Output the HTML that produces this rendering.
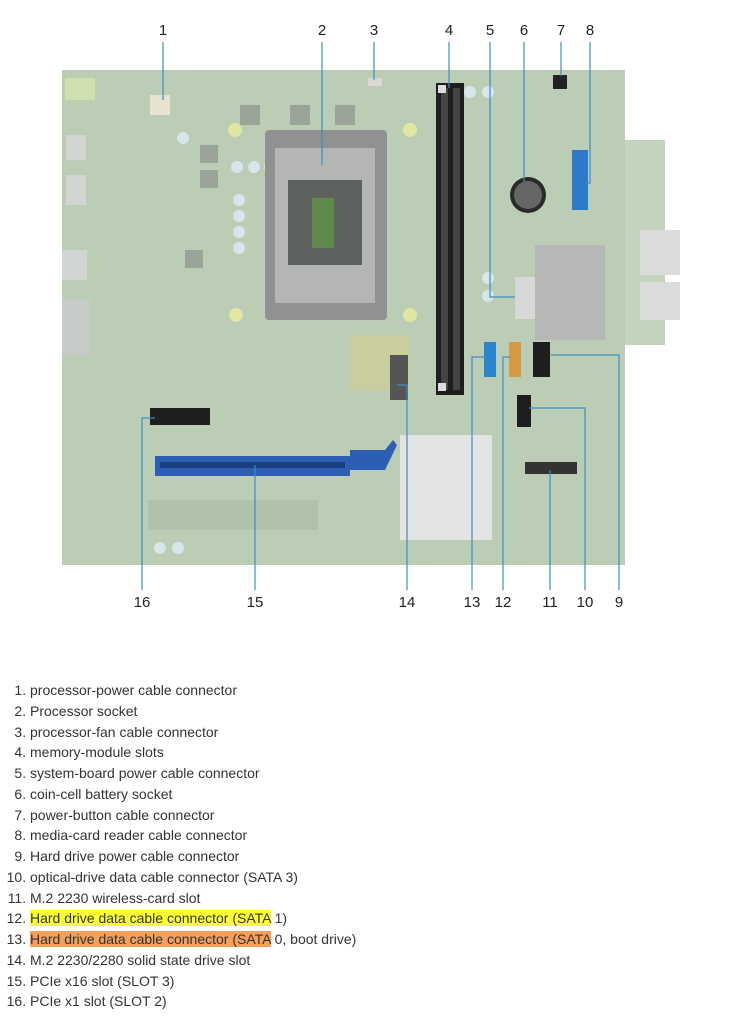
<!DOCTYPE html>
<html><head><meta charset="utf-8"><style>
body{margin:0;width:754px;height:1024px;background:#fff;position:relative;overflow:hidden;font-family:"Liberation Sans",sans-serif}
svg{position:absolute;left:0;top:0}
ol{position:absolute;left:0;top:680px;margin:0;padding:0 0 0 30px;font-size:14px;color:#333;line-height:20.75px}
.y{background:#ffff33}.o{background:#f5a05a}
</style></head><body>
<svg width="754" height="640" viewBox="0 0 754 640">
<g font-family="Liberation Sans" font-size="15" fill="#222" text-anchor="middle">
<text x="163" y="35">1</text><text x="322" y="35">2</text><text x="374" y="35">3</text><text x="449" y="35">4</text><text x="490" y="35">5</text><text x="524" y="35">6</text><text x="561" y="35">7</text><text x="590" y="35">8</text>
<text x="142" y="607">16</text><text x="255" y="607">15</text><text x="407" y="607">14</text><text x="472" y="607">13</text><text x="503" y="607">12</text><text x="550" y="607">11</text><text x="585" y="607">10</text><text x="619" y="607">9</text>
</g>
<!-- board -->
<rect x="62" y="70" width="563" height="495" fill="#bccdb5"/>
<rect x="625" y="140" width="40" height="205" fill="#c3d3bd"/>
<rect x="640" y="230" width="40" height="45" fill="#d9dcd9"/><rect x="640" y="282" width="40" height="38" fill="#d9dcd9"/>
<rect x="62" y="300" width="28" height="55" fill="#c8ccc8"/><rect x="62" y="250" width="25" height="30" fill="#d2d6d2"/>
<rect x="66" y="135" width="20" height="25" fill="#d2d6d2"/><rect x="66" y="175" width="20" height="30" fill="#d2d6d2"/>
<rect x="65" y="78" width="30" height="22" fill="#cfe0b0"/>
<!-- capacitors -->
<g fill="#d6e6ea"><circle cx="183" cy="138" r="6"/><circle cx="237" cy="167" r="6"/><circle cx="254" cy="167" r="6"/><circle cx="270" cy="167" r="6"/><circle cx="286" cy="167" r="6"/><circle cx="304" cy="167" r="6"/><circle cx="239" cy="200" r="6"/><circle cx="239" cy="216" r="6"/><circle cx="239" cy="232" r="6"/><circle cx="239" cy="248" r="6"/><circle cx="488" cy="92" r="6"/><circle cx="470" cy="92" r="6"/><circle cx="488" cy="278" r="6"/><circle cx="488" cy="296" r="6"/><circle cx="160" cy="548" r="6"/><circle cx="178" cy="548" r="6"/></g>
<g fill="#dfe7a0"><circle cx="235" cy="130" r="7"/><circle cx="410" cy="130" r="7"/><circle cx="236" cy="315" r="7"/><circle cx="410" cy="315" r="7"/></g>
<!-- chokes -->
<g fill="#9aa498"><rect x="240" y="105" width="20" height="20"/><rect x="290" y="105" width="20" height="20"/><rect x="335" y="105" width="20" height="20"/><rect x="200" y="145" width="18" height="18"/><rect x="200" y="170" width="18" height="18"/><rect x="185" y="250" width="18" height="18"/></g>
<!-- CPU socket -->
<rect x="265" y="130" width="122" height="190" rx="4" fill="#8f9290"/>
<rect x="275" y="148" width="100" height="155" fill="#b3b6b3"/>
<rect x="288" y="180" width="74" height="85" fill="#5e625f"/>
<rect x="312" y="198" width="22" height="50" fill="#5f8a4e"/>
<!-- RAM -->
<rect x="436" y="83" width="28" height="312" fill="#1e1e1e"/>
<rect x="441" y="88" width="7" height="302" fill="#444"/><rect x="453" y="88" width="7" height="302" fill="#444"/>
<rect x="438" y="85" width="8" height="8" fill="#ddd"/><rect x="438" y="383" width="8" height="8" fill="#ddd"/>
<!-- connectors -->
<rect x="150" y="95" width="20" height="20" fill="#e8e2d0"/>
<rect x="368" y="78" width="14" height="8" fill="#e0d8d8"/>
<rect x="553" y="75" width="14" height="14" fill="#222"/>
<circle cx="528" cy="195" r="18" fill="#2a2a2a"/><circle cx="528" cy="195" r="14" fill="#666"/>
<rect x="572" y="150" width="16" height="60" fill="#2d7ac8"/>
<rect x="515" y="277" width="20" height="42" fill="#d8d8d6"/>
<rect x="535" y="245" width="70" height="95" fill="#b5b8b5"/>
<rect x="484" y="342" width="12" height="35" fill="#2a86cc"/>
<rect x="509" y="342" width="12" height="35" fill="#d59a42"/>
<rect x="533" y="342" width="17" height="35" fill="#1e1e1e"/>
<rect x="517" y="395" width="14" height="32" fill="#1e1e1e"/>
<rect x="525" y="462" width="52" height="12" fill="#333"/>
<rect x="350" y="335" width="60" height="55" fill="#d4cf90" opacity=".6"/>
<rect x="390" y="355" width="18" height="45" fill="#555"/>
<rect x="400" y="435" width="92" height="105" fill="#e3e5e3"/>
<rect x="150" y="408" width="60" height="17" fill="#1e1e1e"/>
<path d="M155 456 H350 V450 H385 L393 440 L397 445 L385 470 H350 V476 H155 Z" fill="#2c5fb3"/>
<rect x="160" y="462" width="185" height="6" fill="#1c3f80"/>
<rect x="148" y="500" width="170" height="30" fill="#b0c2aa"/>
<!-- leaders -->
<g stroke="#3a8ec4" stroke-width="1.2" fill="none">
<path d="M163 42V100"/><path d="M322 42V165"/><path d="M374 42V80"/><path d="M449 42V88"/>
<path d="M490 42V297H515"/><path d="M524 42V182"/><path d="M561 42V76"/><path d="M590 42V183H586"/>
<path d="M619 590V355H551"/><path d="M585 590V408H529"/><path d="M550 590V470"/>
<path d="M503 590V357H510"/><path d="M472 590V357H487"/><path d="M407 590V385H397"/>
<path d="M255 590V465"/><path d="M142 590V418H155"/>
</g>
</svg>
<ol>
<li>processor-power cable connector</li>
<li>Processor socket</li>
<li>processor-fan cable connector</li>
<li>memory-module slots</li>
<li>system-board power cable connector</li>
<li>coin-cell battery socket</li>
<li>power-button cable connector</li>
<li>media-card reader cable connector</li>
<li>Hard drive power cable connector</li>
<li>optical-drive data cable connector (SATA 3)</li>
<li>M.2 2230 wireless-card slot</li>
<li><span class="y">Hard drive data cable connector (SATA</span> 1)</li>
<li><span class="o">Hard drive data cable connector (SATA</span> 0, boot drive)</li>
<li>M.2 2230/2280 solid state drive slot</li>
<li>PCIe x16 slot (SLOT 3)</li>
<li>PCIe x1 slot (SLOT 2)</li>
</ol>
</body></html>
